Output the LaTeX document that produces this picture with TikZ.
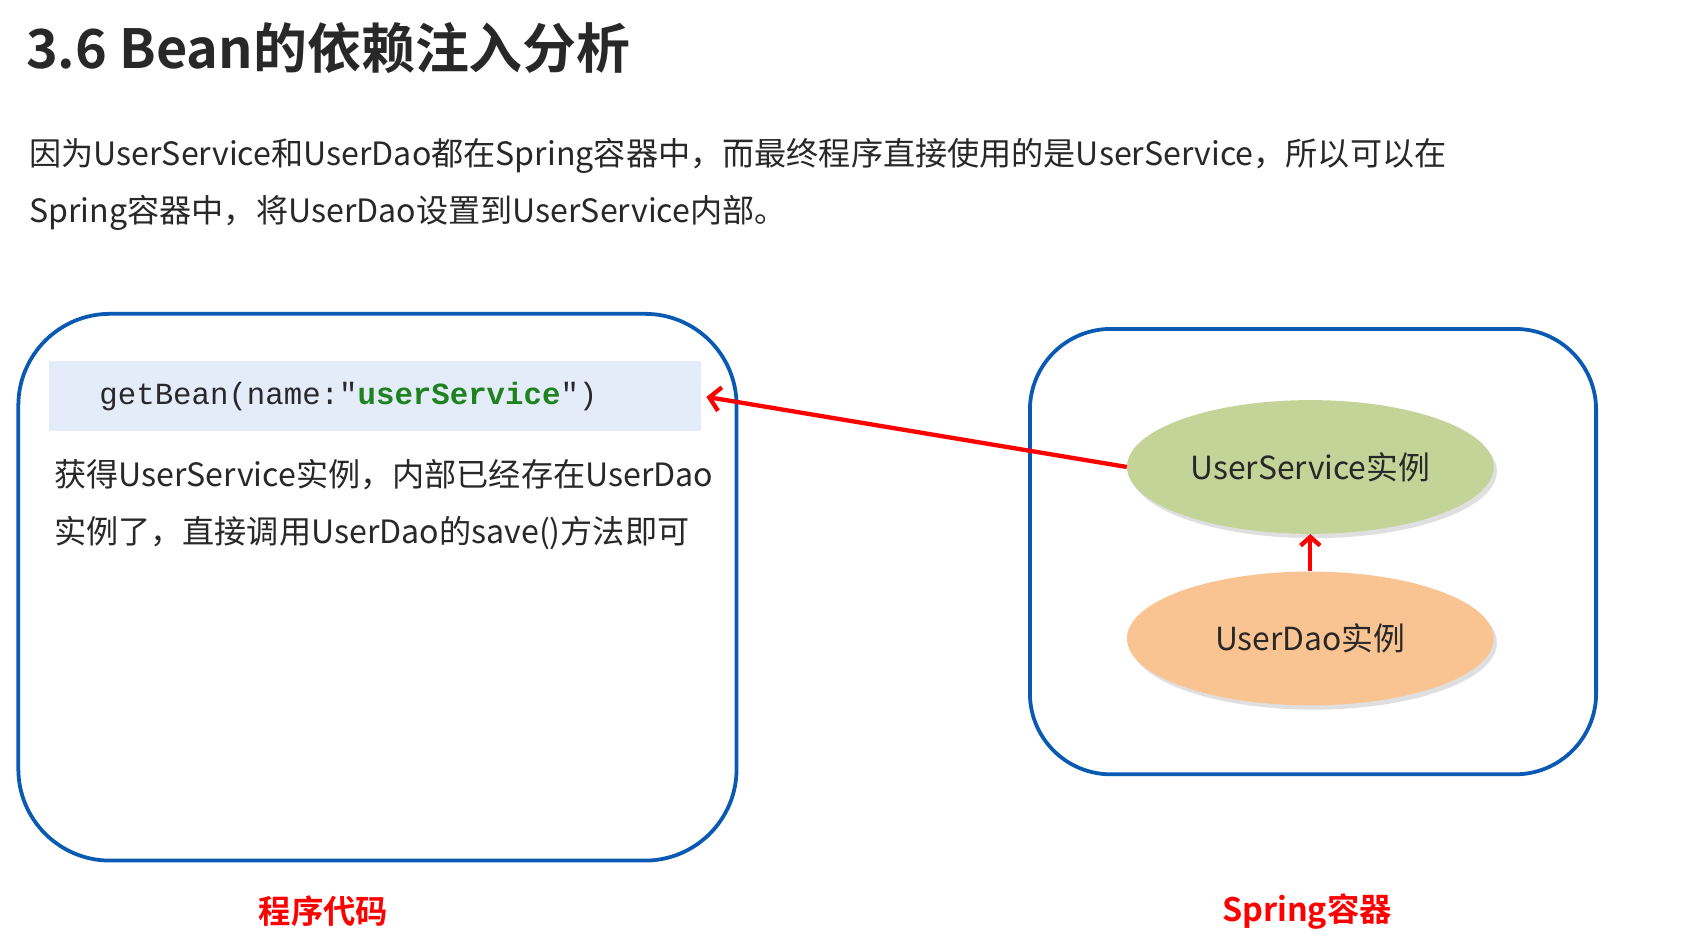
\documentclass[tikz,border=0pt]{standalone}
\usepackage{fontspec}
\setmainfont{Noto Sans CJK SC}
\newfontfamily\cjkb{Noto Sans CJK SC Bold}
\newfontfamily\mono{Liberation Mono}
\usetikzlibrary{arrows.meta,shadows,shapes.geometric}
\definecolor{boxblue}{RGB}{10,90,180}
\definecolor{codebg}{RGB}{228,236,250}
\definecolor{codegreen}{RGB}{30,130,30}
\definecolor{ellgreen}{RGB}{196,212,152}
\definecolor{ellorange}{RGB}{250,196,146}
\definecolor{txt}{RGB}{40,40,40}
\begin{document}
\begin{tikzpicture}[x=1pt,y=-1pt,
  container/.style={draw=boxblue,line width=3.5pt,rounded corners=85pt},
  inst/.style={ellipse,minimum width=340pt,minimum height=124pt,inner sep=0pt,font=\fontsize{29.5}{34}\selectfont,text=txt,drop shadow={shadow xshift=3pt,shadow yshift=-4pt,opacity=0.25}},
  redarrow/.style={draw=red,line width=4pt,-{Straight Barb[length=10pt,width=22pt,line width=4pt]}},
  body/.style={font=\fontsize{29.8}{34}\selectfont,text=txt,anchor=west,inner sep=0pt},
  caption/.style={font=\cjkb\fontsize{30}{34}\selectfont,text=red}]
\useasboundingbox[fill=white] (0,0) rectangle (1568,880);
\node[anchor=west,inner sep=0pt,font=\cjkb\fontsize{50}{56}\selectfont,text=txt] (title) at (24,45) {3.6 Bean的依赖注入分析};
\node[body] (p1) at (27,145) {因为UserService和UserDao都在Spring容器中，而最终程序直接使用的是UserService，所以可以在};
\node[body] (p2) at (27,197) {Spring容器中，将UserDao设置到UserService内部。};
\draw[container] (17,291) rectangle (683,798);
\draw[container,rounded corners=75pt] (955,305) rectangle (1480,718);
\fill[codebg] (45,335) rectangle (650,400);
\node[anchor=west,inner sep=0pt,font=\mono\fontsize{28.5}{32}\selectfont,text=txt] (code) at (92,368) {getBean(name:"{\bfseries\color{codegreen}userService}")};
\coordinate (codeR) at (655,368);
\node[body] (t1) at (50,440) {获得UserService实例，内部已经存在UserDao};
\node[body] (t2) at (50,494) {实例了，直接调用UserDao的save()方法即可};
\node[inst,fill=ellgreen] (svc) at (1215,433) {UserService实例};
\node[inst,fill=ellorange] (dao) at (1215,592) {UserDao实例};
\draw[redarrow] (svc.west) -- (codeR);
\draw[redarrow,-{Straight Barb[length=8pt,width=18pt,line width=4pt]}] (dao.north) -- (svc.south);
\node[caption] (c1) at (300,845) {程序代码};
\node[caption] (c2) at (1212,845) {Spring容器};
\end{tikzpicture}
\end{document}
